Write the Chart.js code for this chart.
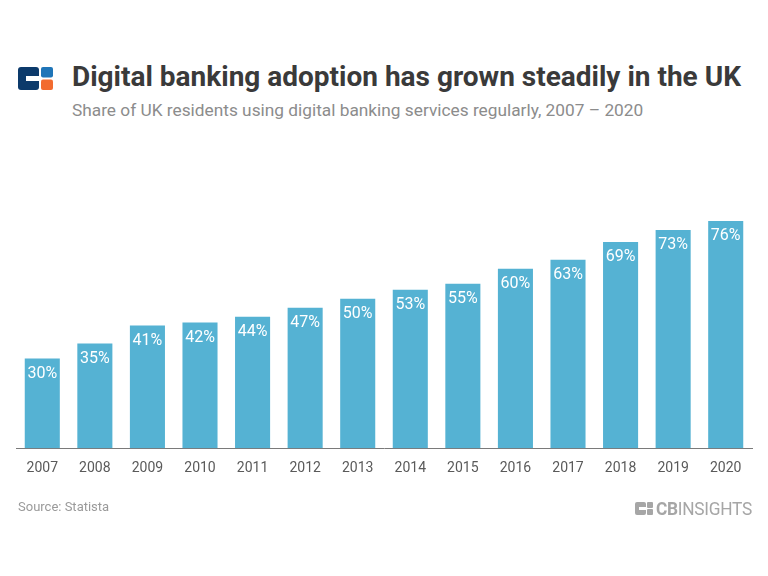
<!DOCTYPE html>
<html>
<head>
<meta charset="utf-8">
<script src="https://cdn.jsdelivr.net/npm/chart.js@4"></script>
<style>
    body { margin: 0; background: #fff; font-family: Roboto, sans-serif; }
    #wrap { position: relative; width: 768px; height: 576px; overflow: hidden; }
    #chart { position: absolute; left: 0; top: 0; }
    .logo { position: absolute; left: 18px; top: 67px; }
    .title {
        position: absolute; left: 72px; top: 60px; white-space: nowrap;
        font-size: 28px; font-weight: 700; color: #3a3a3a;
    }
    .subtitle {
        position: absolute; left: 72px; top: 100px; white-space: nowrap;
        font-size: 17.3px; font-weight: 400; color: #8c8c8c;
    }
    .source { position: absolute; left: 18px; top: 499px; font-size: 13px; color: #9a9a9a; }
    .brand { position: absolute; left: 635px; top: 497px; display: flex; align-items: center; }
    .brand span {
        font-size: 19px; color: #a6a6a6; letter-spacing: -0.3px;
        transform: scaleX(0.91); transform-origin: left center; display: inline-block;
    }
</style>
</head>
<body>
<div id="wrap">
    <svg class="logo" width="35" height="23" viewBox="0 0 35 23">
        <rect x="0" y="0" width="21" height="23" rx="3" fill="#0c3a6b"/>
        <rect x="8" y="9" width="13" height="5" fill="#fff"/>
        <rect x="23" y="0" width="12" height="10.5" rx="2" fill="#1f75b8"/>
        <rect x="23" y="12.5" width="12" height="10.5" rx="2" fill="#f26b2f"/>
    </svg>
    <div class="title">Digital banking adoption has grown steadily in the UK</div>
    <div class="subtitle">Share of UK residents using digital banking services regularly, 2007 – 2020</div>
    <canvas id="chart" width="768" height="576"></canvas>
    <div class="source">Source: Statista</div>
    <div class="brand">
        <svg width="18" height="13" viewBox="0 0 18 13">
            <rect x="0" y="0" width="11" height="13" rx="2" fill="#a6a6a6"/>
            <rect x="4" y="5" width="7" height="3" fill="#fff"/>
            <rect x="12" y="0" width="6" height="6" rx="1" fill="#a6a6a6"/>
            <rect x="12" y="7" width="6" height="6" rx="1" fill="#a6a6a6"/>
        </svg>
        <span style="margin-left:3px"><b style="font-weight:700">CB</b>INSIGHTS</span>
    </div>
</div>
<script>
const years = ["2007", "2008", "2009", "2010", "2011", "2012", "2013", "2014", "2015", "2016", "2017", "2018", "2019", "2020"];
const adoption = [30, 35, 41, 42, 44, 47, 50, 53, 55, 60, 63, 69, 73, 76];

const barColor = "#55b2d3";

// value labels just inside the top of each bar
const valueLabels = {
    id: "valueLabels",
    afterDatasetsDraw(chart) {
        const ctx = chart.ctx;
        const meta = chart.getDatasetMeta(0);
        ctx.save();
        ctx.fillStyle = "#ffffff";
        ctx.font = "16px Roboto";
        ctx.textAlign = "center";
        ctx.textBaseline = "middle";
        meta.data.forEach((bar, i) => {
            ctx.fillText(adoption[i] + "%", bar.x, bar.y + 15);
        });
        ctx.restore();
    }
};

new Chart(document.getElementById("chart"), {
    type: "bar",
    data: {
        labels: years,
        datasets: [{
            data: adoption,
            backgroundColor: barColor,
            borderWidth: 0,
            categoryPercentage: 1,
            barPercentage: 0.667
        }]
    },
    options: {
        responsive: false,
        animation: false,
        layout: { padding: { left: 16, right: 16, top: 209, bottom: 87 } },
        scales: {
            y: { display: false, min: 0, max: 80 },
            x: {
                grid: { display: false, drawTicks: false },
                border: { display: true, color: "#7a7a7a", width: 1 },
                ticks: { color: "#5a5a5a", font: { family: "Roboto", size: 14 }, padding: 12 }
            }
        },
        plugins: {
            legend: { display: false },
            tooltip: { enabled: false }
        }
    },
    plugins: [valueLabels]
});
</script>
</body>
</html>
